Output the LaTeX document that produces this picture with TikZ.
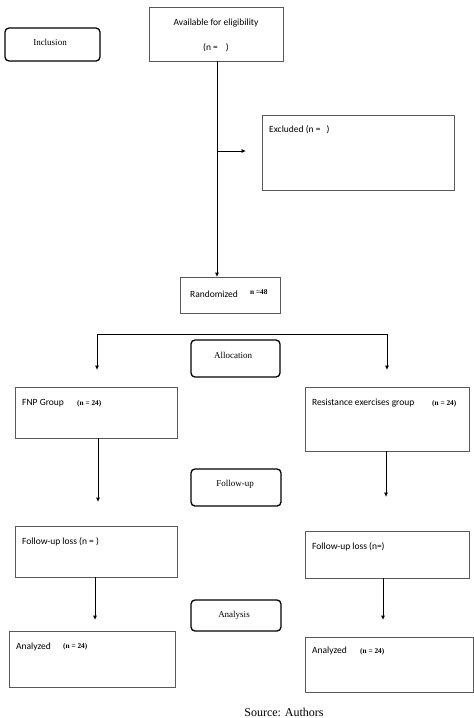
\documentclass[tikz,border=0pt]{standalone}
\usepackage{fontspec}
\setmainfont{Carlito}
\newfontfamily\serifnf{Liberation Serif}
\usetikzlibrary{arrows.meta}
\begin{document}
\begin{tikzpicture}[x=1pt,y=-1pt,
  cbox/.style={draw=black!65,line width=0.8pt,inner sep=0pt,anchor=center},
  lbox/.style={draw=black,line width=1.3pt,rounded corners=4pt,inner sep=0pt,anchor=center},
  txt/.style={font=\fontsize{9.5}{11}\selectfont,inner sep=0pt},
  ltxt/.style={font=\serifnf\fontsize{9}{10}\selectfont,inner sep=0pt},
  ntxt/.style={font=\serifnf\bfseries\fontsize{7.3}{8}\selectfont,inner sep=0pt},
  arr/.style={draw=black,line width=0.8pt,-{Triangle[length=4pt,width=3.5pt]}},
  ln/.style={draw=black,line width=0.8pt}]
\useasboundingbox (0,0) rectangle (474,718);
% boxes
\node[cbox,minimum width=134pt,minimum height=54pt] (avail) at (216,34) {};
\node[lbox,minimum width=95pt,minimum height=33pt] (incl) at (52.5,44.5) {};
\node[cbox,minimum width=192pt,minimum height=75pt] (excl) at (358,152.5) {};
\node[cbox,minimum width=100pt,minimum height=36pt] (rand) at (230,295) {};
\node[lbox,minimum width=89pt,minimum height=37pt] (alloc) at (235.5,358.5) {};
\node[cbox,minimum width=162pt,minimum height=51pt] (fnp) at (96,412.5) {};
\node[cbox,minimum width=164pt,minimum height=64pt] (res) at (387,419) {};
\node[lbox,minimum width=90pt,minimum height=37pt] (fu) at (236,487.5) {};
\node[cbox,minimum width=162pt,minimum height=51pt] (ful) at (96,551.5) {};
\node[cbox,minimum width=164pt,minimum height=47pt] (fur) at (387,554.5) {};
\node[lbox,minimum width=90pt,minimum height=31pt] (ana) at (236,615.5) {};
\node[cbox,minimum width=166pt,minimum height=56pt] (anl) at (92,659) {};
\node[cbox,minimum width=168pt,minimum height=55pt] (anr) at (389,664.5) {};
% texts
\node[txt] (t1) at (216,23) {Available for eligibility};
\node[txt] (t2) at (216,48) {(n =\hspace{8pt})};
\node[ltxt] (t3) at (50,42) {Inclusion};
\node[txt,anchor=west] (t4) at (269,130) {Excluded (n =\hspace{6pt})};
\node[txt,anchor=west] (t5) at (190,294) {Randomized};
\node[ntxt,anchor=west] (t6) at (250,292) {n =48};
\node[ltxt] (t7) at (233,355) {Allocation};
\node[txt,anchor=west] (t8) at (22,403) {FNP Group};
\node[ntxt,anchor=west] (t9) at (77,404) {(n = 24)};
\node[txt,anchor=west] (t10) at (312,403) {Resistance exercises group};
\node[ntxt,anchor=west] (t11) at (432,404) {(n = 24)};
\node[ltxt] (t12) at (235,484) {Follow-up};
\node[txt,anchor=west] (t13) at (22,542) {Follow-up loss (n = )};
\node[txt,anchor=west] (t14) at (312,547) {Follow-up loss (n=)};
\node[ltxt] (t15) at (234,615) {Analysis};
\node[txt,anchor=west] (t16) at (16,647) {Analyzed};
\node[ntxt,anchor=west] (t17) at (63,647) {(n = 24)};
\node[txt,anchor=west] (t18) at (312,651) {Analyzed};
\node[ntxt,anchor=west] (t19) at (360,652) {(n = 24)};
\node[font=\serifnf\fontsize{12}{14}\selectfont,inner sep=0pt,anchor=base] (src) at (284,716) {Source: Authors};
% connectors
\coordinate (br) at (217,151);
\coordinate (splitL) at (97,334);
\coordinate (splitR) at (387,334);
\draw[arr] ([xshift=1pt]avail.south) -- ([xshift=1pt]avail.south |- rand.north);
\draw[arr,shorten >=16pt] (br) -- (br -| excl.west);
\draw[ln] (splitL) -- (splitR);
\draw[arr,shorten >=17pt] (splitL) -- (splitL |- fnp.north);
\draw[arr,shorten >=17pt] (splitR) -- (splitR |- res.north);
\draw[arr,shorten >=24pt] ([xshift=2pt]fnp.south) -- ([xshift=2pt]fnp.south |- ful.north);
\draw[arr,shorten >=34pt] ([xshift=-1pt]res.south) -- ([xshift=-1pt]res.south |- fur.north);
\draw[arr,shorten >=11pt] ([xshift=-1pt]ful.south) -- ([xshift=-1pt]ful.south |- anl.north);
\draw[arr,shorten >=17pt] ([xshift=-4pt]fur.south) -- ([xshift=-4pt]fur.south |- anr.north);
\end{tikzpicture}
\end{document}
